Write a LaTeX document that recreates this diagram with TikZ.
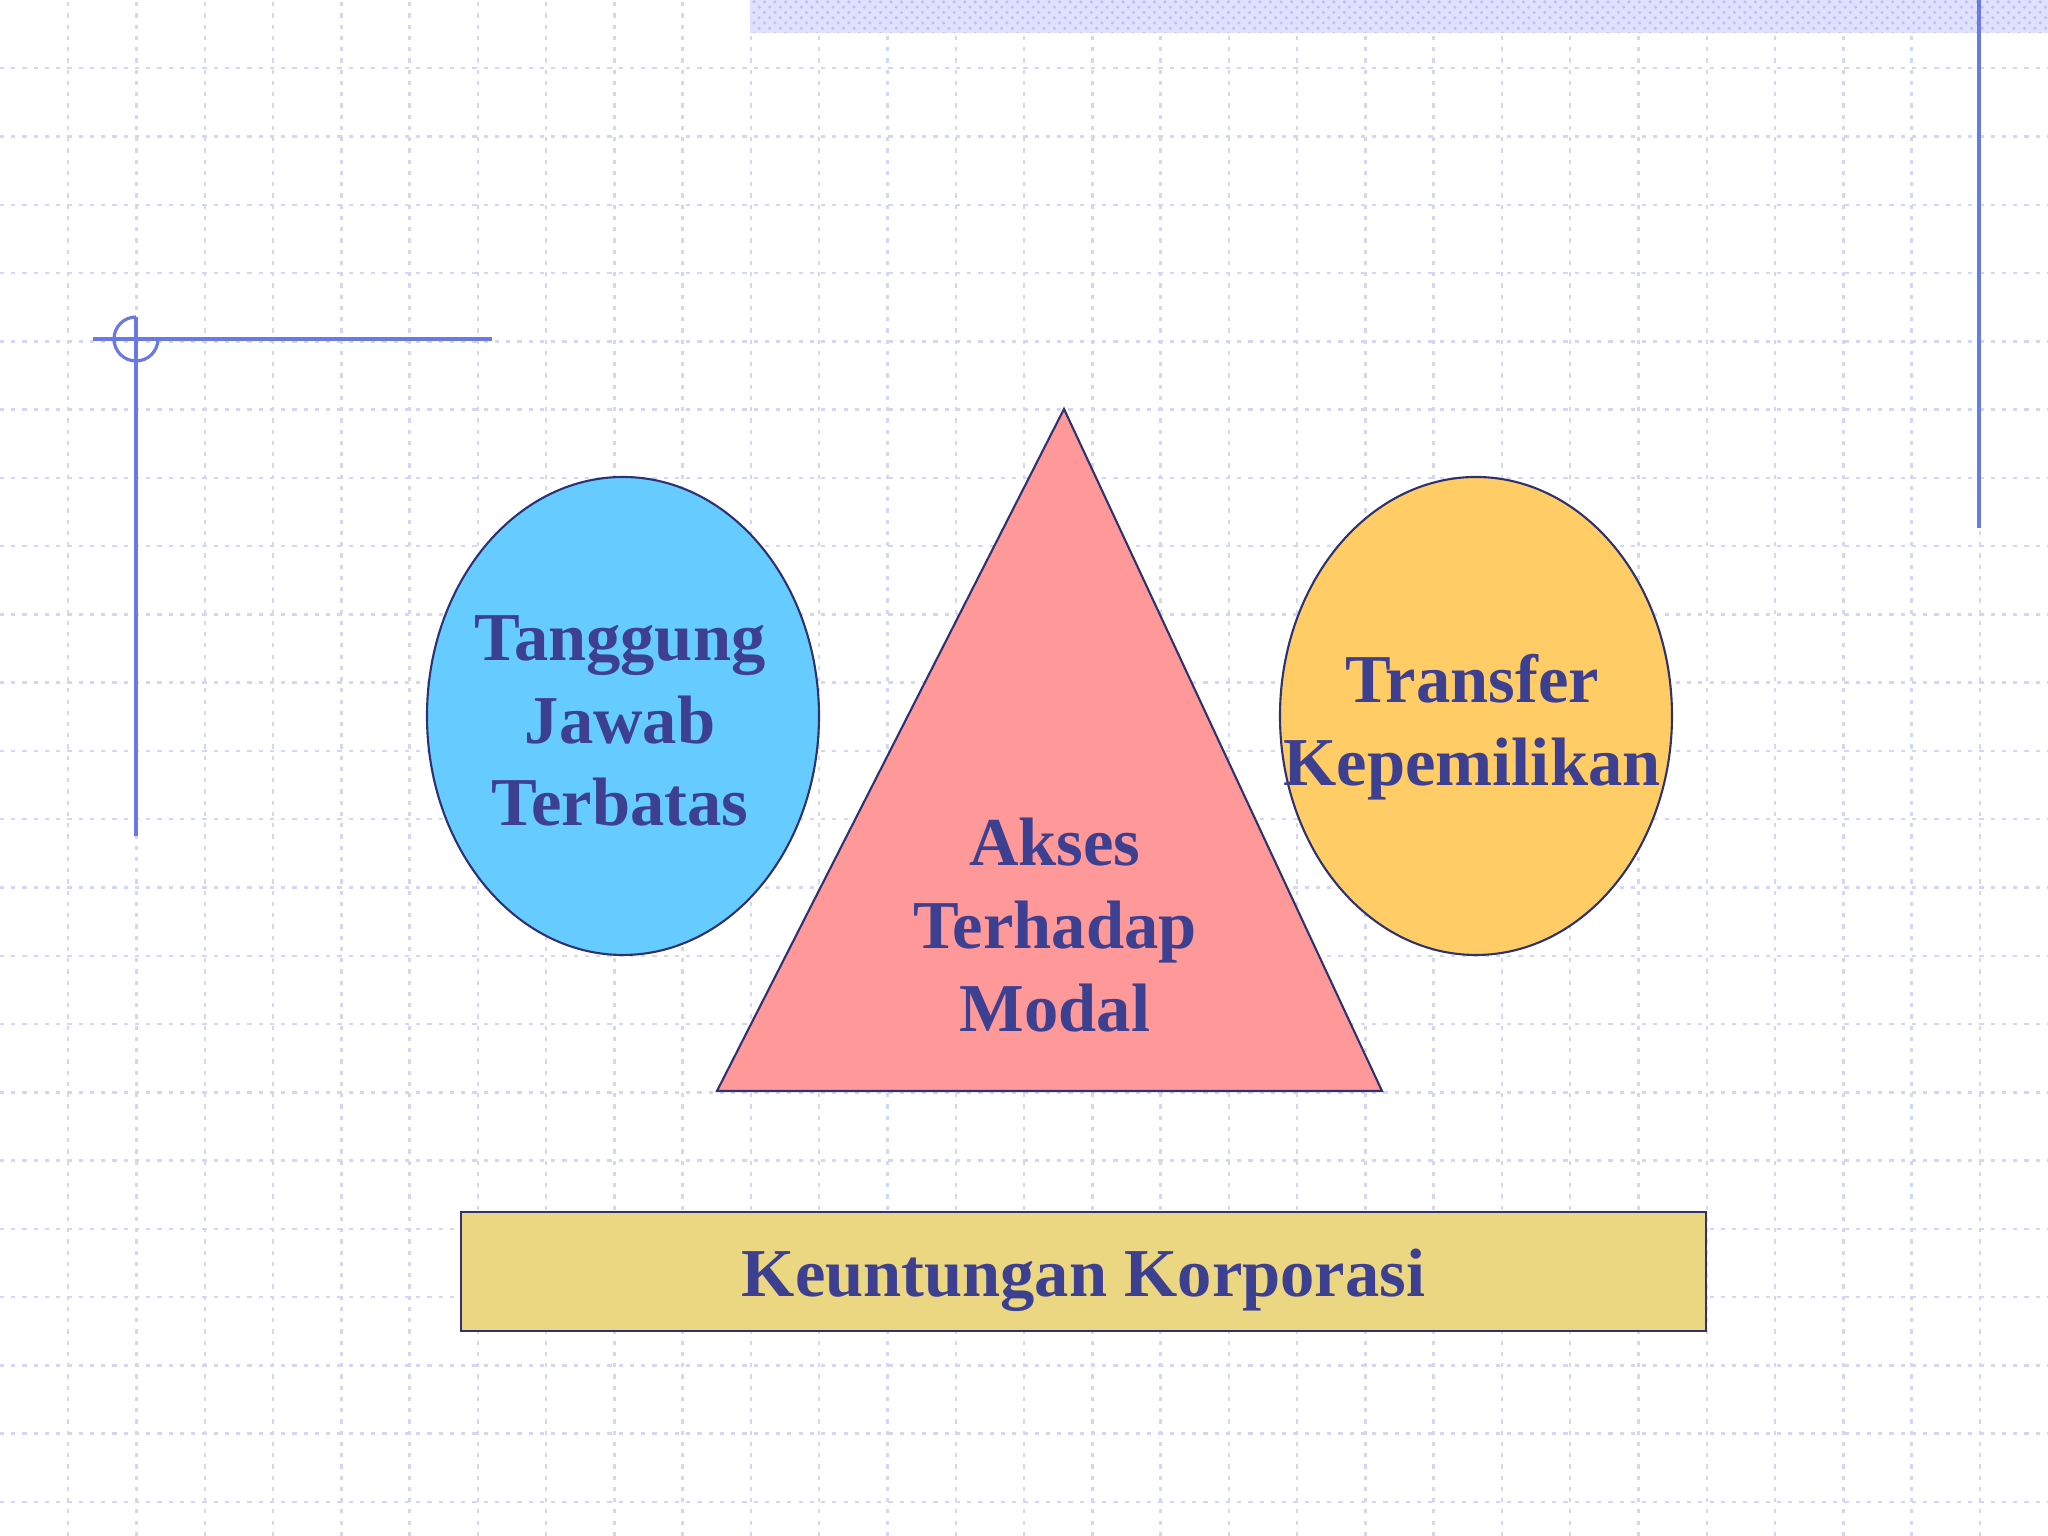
\documentclass[tikz,border=0pt]{standalone}
\usepackage{fontspec}
\setmainfont{Liberation Serif}
\usepackage{xcolor}
\usepackage{tikz}
\definecolor{gridblue}{HTML}{D3D6F5}
\definecolor{lineblue}{HTML}{6A7AE0}
\definecolor{navy}{HTML}{2F3270}
\definecolor{textblue}{HTML}{3D4090}
\definecolor{skyfill}{HTML}{66CCFF}
\definecolor{pinkfill}{HTML}{FF9999}
\definecolor{orangefill}{HTML}{FFCC66}
\definecolor{sandfill}{HTML}{EBD682}
\usetikzlibrary{shapes.geometric, positioning, calc, patterns}

\begin{document}
\begin{tikzpicture}[
    gridline/.style={draw=gridblue, line width=0.7pt, dash pattern=on 1.2pt off 2pt},
    deco/.style={draw=lineblue, line width=0.9pt},
    oval/.style={ellipse, draw=navy, line width=0.6pt, minimum width=3.92cm, minimum height=4.78cm},
    label/.style={text=textblue, align=center, font=\fontsize{19.5}{23.5}\selectfont\bfseries},
    banner/.style={rectangle, draw=navy, line width=0.7pt, fill=sandfill, minimum width=12.45cm, minimum height=1.19cm},
]
\useasboundingbox (0,0) rectangle (20.48,15.36);
\fill[white] (0,0) rectangle (20.48,15.36);

% background grid
\foreach \i in {1,...,29}
    \draw[gridline] (\i*0.6827,0) -- (\i*0.6827,15.36);
\foreach \j in {1,...,22}
    \draw[gridline] (0,15.36-\j*0.6827) -- (20.48,15.36-\j*0.6827);

% page decoration
\fill[blue!12] (7.50,15.03) rectangle (20.48,15.36);
\fill[pattern=crosshatch dots, pattern color=blue!25] (7.50,15.03) rectangle (20.48,15.36);
\draw[deco] (19.79,15.36) -- (19.79,10.08);
\draw[deco] (0.93,11.97) -- (4.92,11.97);
\draw[deco] (1.36,12.19) -- (1.36,7.00);
\draw[deco] (1.36,12.19) arc[start angle=90, end angle=360, radius=0.22];

% shapes
\node[oval, fill=skyfill] (liability) at (6.23,8.20) {};
\node[oval, fill=orangefill] (transfer) at (14.76,8.20) {};
\coordinate (apex) at (10.64,11.27);
\coordinate (baseL) at (7.17,4.45);
\coordinate (baseR) at (13.82,4.45);
\draw[navy, line width=0.6pt, fill=pinkfill] (apex) -- (baseR) -- (baseL) -- cycle;
\node[banner] (benefit) at (10.835,2.645) {};

% texts
\node[label] (liabilitytext) at (6.20,8.15) {Tanggung\\Jawab\\Terbatas};
\node[label] (transfertext) at (14.72,8.09) {Transfer\\Kepemilikan};
\node[label] (capital) at (10.55,6.11) {Akses\\Terhadap\\Modal};
\node[label] (benefittext) at ([yshift=-0.09cm]benefit.center) {Keuntungan Korporasi};
\end{tikzpicture}
\end{document}
